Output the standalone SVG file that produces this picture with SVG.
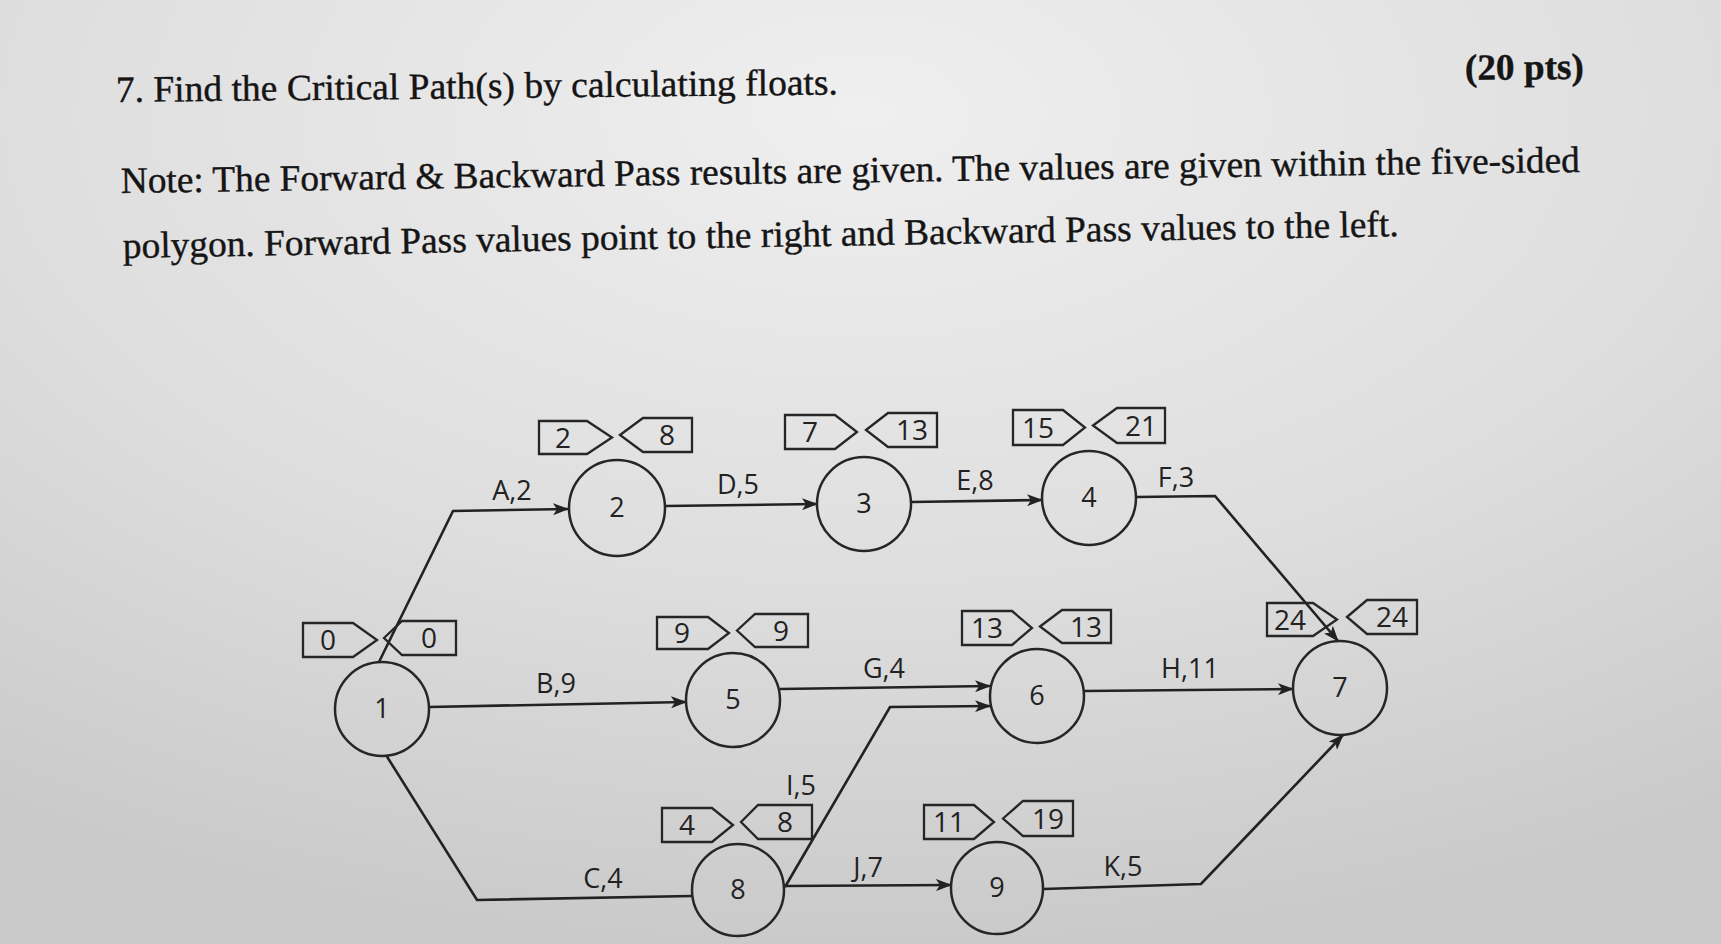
<svg xmlns="http://www.w3.org/2000/svg" width="1721" height="944" viewBox="0 0 1721 944">
<defs>
<radialGradient id="bg" cx="0.5" cy="0.12" r="0.9">
<stop offset="0" stop-color="#f0eff0"/>
<stop offset="0.55" stop-color="#dfdedf"/>
<stop offset="1" stop-color="#c9c9c9"/>
</radialGradient>
<marker id="ah" viewBox="0 0 16 12" refX="15" refY="6" markerWidth="16" markerHeight="12" orient="auto" markerUnits="userSpaceOnUse">
<path d="M0,0 L16,6 L0,12 L4,6 Z" fill="#222"/>
</marker>
</defs>
<style>
.q{font-family:"Liberation Serif","Times New Roman",serif;font-size:37px;fill:#151515;stroke:#151515;stroke-width:0.4}
.qb{font-weight:bold}
.c{fill:none;stroke:#262626;stroke-width:2.5}
.p{fill:none;stroke:#262626;stroke-width:2.3}
.e{fill:none;stroke:#222;stroke-width:2.6}
.ea{marker-end:url(#ah)}
.n{font-family:"Open Sans","Noto Sans","DejaVu Sans",sans-serif;font-size:27px;fill:#222;text-anchor:middle}
.v{font-family:"Open Sans","Noto Sans","DejaVu Sans",sans-serif;font-size:28px;fill:#222;text-anchor:middle}
.l{font-family:"Open Sans","Noto Sans","DejaVu Sans",sans-serif;font-size:27px;fill:#222;text-anchor:middle}
</style>
<rect x="0" y="0" width="1721" height="944" fill="url(#bg)"/>
<g id="question">
<text class="q" x="116" y="102" textLength="722" lengthAdjust="spacingAndGlyphs" transform="rotate(-0.6 116 102)">7. Find the Critical Path(s) by calculating floats.</text>
<text class="q qb" x="1465" y="80" textLength="119" lengthAdjust="spacingAndGlyphs" transform="rotate(-0.6 1465 80)">(20 pts)</text>
<text class="q" x="121" y="193" textLength="1459" lengthAdjust="spacingAndGlyphs" transform="rotate(-0.83 121 193)">Note: The Forward &amp; Backward Pass results are given. The values are given within the five-sided</text>
<text class="q" x="123" y="258" textLength="1276" lengthAdjust="spacingAndGlyphs" transform="rotate(-0.98 123 258)">polygon. Forward Pass values point to the right and Backward Pass values to the left.</text>
</g>
<g id="connectors">
<path class="e ea" d="M379,662 L453,511 L568,509"/>
<path class="e ea" d="M429,707 L686,702"/>
<path class="e" d="M386,755 L477,900 L692,896"/>
<path class="e ea" d="M665,506 L817,504"/>
<path class="e ea" d="M911,502 L1042,500"/>
<path class="e ea" d="M1136,497 L1215,496 L1338,641"/>
<path class="e ea" d="M780,689 L990,686"/>
<path class="e ea" d="M1084,691 L1293,689"/>
<path class="e ea" d="M785,887 L890,707 L990,706"/>
<path class="e ea" d="M784,886 L951,885"/>
<path class="e ea" d="M1043,889 L1201,884 L1343,735"/>
<text class="l" x="512" y="500">A,2</text>
<text class="l" x="556" y="693">B,9</text>
<text class="l" x="603" y="888">C,4</text>
<text class="l" x="738" y="494">D,5</text>
<text class="l" x="975" y="490">E,8</text>
<text class="l" x="1176" y="487">F,3</text>
<text class="l" x="884" y="678">G,4</text>
<text class="l" x="1190" y="678">H,11</text>
<text class="l" x="801" y="795">I,5</text>
<text class="l" x="868" y="877">J,7</text>
<text class="l" x="1123" y="876">K,5</text>
</g>
<g id="node1">
<circle class="c" cx="382" cy="709" r="47"/>
<text class="n" x="382" y="718">1</text>
<path class="p" d="M303,623 H353 L377,640 L353,657 H303 Z"/>
<text class="v" x="328" y="650">0</text>
<path class="p" d="M384,638 L402,621 H456 V655 H402 Z"/>
<text class="v" x="429" y="648">0</text>
</g>
<g id="node2">
<circle class="c" cx="617" cy="508" r="48"/>
<text class="n" x="617" y="517">2</text>
<path class="p" d="M539,421 H587 L612,437.5 L587,454 H539 Z"/>
<text class="v" x="563" y="448">2</text>
<path class="p" d="M620,435 L643,418 H692 V452 H643 Z"/>
<text class="v" x="667" y="445">8</text>
</g>
<g id="node3">
<circle class="c" cx="864" cy="504" r="47"/>
<text class="n" x="864" y="513">3</text>
<path class="p" d="M785,415 H835 L857,432 L835,449 H785 Z"/>
<text class="v" x="810" y="442">7</text>
<path class="p" d="M866,430 L888,413 H937 V447 H888 Z"/>
<text class="v" x="912" y="440">13</text>
</g>
<g id="node4">
<circle class="c" cx="1089" cy="498" r="47"/>
<text class="n" x="1089" y="507">4</text>
<path class="p" d="M1013,410 H1063 L1085,427.5 L1063,445 H1013 Z"/>
<text class="v" x="1038" y="438">15</text>
<path class="p" d="M1093,425.5 L1117,408 H1165 V443 H1117 Z"/>
<text class="v" x="1141" y="436">21</text>
</g>
<g id="node5">
<circle class="c" cx="733" cy="700" r="47"/>
<text class="n" x="733" y="709">5</text>
<path class="p" d="M657,617 H708 L729,633 L708,649 H657 Z"/>
<text class="v" x="682" y="643">9</text>
<path class="p" d="M737,630.5 L755,614 H808 V647 H755 Z"/>
<text class="v" x="781" y="641">9</text>
</g>
<g id="node6">
<circle class="c" cx="1037" cy="696" r="47"/>
<text class="n" x="1037" y="705">6</text>
<path class="p" d="M962,611 H1012 L1032,628 L1012,645 H962 Z"/>
<text class="v" x="987" y="638">13</text>
<path class="p" d="M1040,626.5 L1062,610 H1111 V643 H1062 Z"/>
<text class="v" x="1086" y="637">13</text>
</g>
<g id="node7">
<circle class="c" cx="1340" cy="688" r="47"/>
<text class="n" x="1340" y="697">7</text>
<path class="p" d="M1267,603 H1313 L1337,619.5 L1313,636 H1267 Z"/>
<text class="v" x="1290" y="630">24</text>
<path class="p" d="M1347,617 L1367,600 H1417 V634 H1367 Z"/>
<text class="v" x="1392" y="627">24</text>
</g>
<g id="node8">
<circle class="c" cx="738" cy="890" r="46"/>
<text class="n" x="738" y="899">8</text>
<path class="p" d="M662,808 H712 L733,825 L712,842 H662 Z"/>
<text class="v" x="687" y="835">4</text>
<path class="p" d="M741,822 L758,805 H812 V839 H758 Z"/>
<text class="v" x="785" y="832">8</text>
</g>
<g id="node9">
<circle class="c" cx="997" cy="888" r="46"/>
<text class="n" x="997" y="897">9</text>
<path class="p" d="M924,805 H974 L994,822 L974,839 H924 Z"/>
<text class="v" x="949" y="832">11</text>
<path class="p" d="M1003,818.5 L1023,801 H1073 V836 H1023 Z"/>
<text class="v" x="1048" y="829">19</text>
</g>
</svg>
